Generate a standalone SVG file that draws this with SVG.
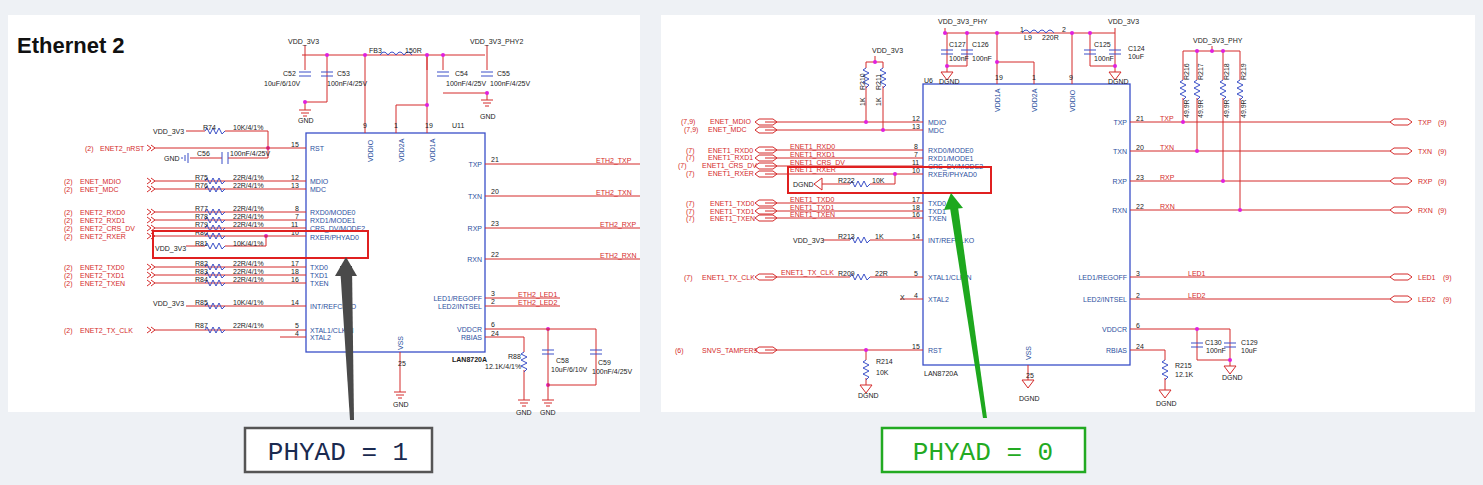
<svg xmlns="http://www.w3.org/2000/svg" width="1483" height="485" viewBox="0 0 1483 485">
<style>
.w{stroke:#d42a2a;stroke-width:1;fill:none}
.chip{stroke:#3a4fc8;stroke-width:1.3;fill:#fff}
.pn{font-family:'Liberation Sans',Arial,sans-serif;font-size:7px;fill:#2c4fa0}
.nt{font-family:'Liberation Sans',Arial,sans-serif;font-size:7px;fill:#d42a2a}
.tk{font-family:'Liberation Sans',Arial,sans-serif;font-size:7px;fill:#222}
.d{fill:#e020e0}
.big{font-family:'Liberation Mono','DejaVu Sans Mono',monospace;font-size:26px}
</style>
<defs>
<path id="rz" d="M0,0 l2,-3 l3,6 l3,-6 l3,6 l3,-6 l3,6 l3,-3" stroke="#3a4fc8" fill="none"/>
<path id="rv" d="M0,0 l-3,2 l6,3 l-6,3 l6,3 l-6,3 l6,3 l-3,3" stroke="#3a4fc8" fill="none"/>
<path id="gnd" d="M-6,0 h12 M-4,3 h8 M-2,6 h4" stroke="#d42a2a" fill="none"/>
<path id="dg" d="M-6,0 h12 l-6,8 z" stroke="#d42a2a" fill="none"/>
<path id="chev" d="M0,-3 l4,3 l-4,3 M4,-3 l4,3 l-4,3" stroke="#d42a2a" fill="none"/>
<path id="hx" d="M0,0 l4,-3 h14 l4,3 l-4,3 h-14 z" stroke="#d42a2a" fill="none"/>
</defs>
<rect width="1483" height="485" fill="#eef1f5"/>
<rect x="8" y="15" width="632" height="397" fill="#fff"/>
<rect x="661" y="15" width="814" height="397" fill="#fff"/>

<text x="17" y="53" font-family="'Liberation Sans',Arial,sans-serif" font-size="22" font-weight="bold" fill="#111">Ethernet 2</text>
<g id="u11">
<rect class="chip" x="306" y="133" width="179" height="219"/>
<text class="tk" x="452" y="128">U11</text>
<text class="tk" x="452" y="362" font-weight="bold">LAN8720A</text>
<g class="pn">
<text x="310" y="151">RST</text><text x="310" y="184">MDIO</text><text x="310" y="192">MDC</text>
<text x="310" y="215">RXD0/MODE0</text><text x="310" y="223">RXD1/MODE1</text><text x="310" y="231">CRS_DV/MODE2</text><text x="310" y="240">RXER/PHYAD0</text>
<text x="310" y="270">TXD0</text><text x="310" y="278">TXD1</text><text x="310" y="286">TXEN</text><text x="310" y="309">INT/REFCLKO</text>
<text x="310" y="333">XTAL1/CLKIN</text><text x="310" y="340">XTAL2</text>
<text x="482" y="167" text-anchor="end">TXP</text><text x="482" y="199" text-anchor="end">TXN</text><text x="482" y="231" text-anchor="end">RXP</text><text x="482" y="262" text-anchor="end">RXN</text>
<text x="482" y="301" text-anchor="end">LED1/REGOFF</text><text x="482" y="309" text-anchor="end">LED2/INTSEL</text><text x="482" y="332" text-anchor="end">VDDCR</text><text x="482" y="340" text-anchor="end">RBIAS</text>
<text transform="translate(373,162) rotate(-90)">VDDIO</text><text transform="translate(404,162) rotate(-90)">VDD2A</text><text transform="translate(435,162) rotate(-90)">VDD1A</text>
<text transform="translate(403,350) rotate(-90)">VSS</text>
</g>
</g>
<g id="left-conn">
<path class="w" d="M302,55 H485 M365,55 V133 M427,55 V133 M396,105 H427 M396,105 V133 M305,55 V70 M327,55 V70 M305,102 H327 M305,102 V110 M327,70 V102 M427,55 V70 M443,55 V70 M487,55 V70 M443,93 H487 M487,93 V100 M487,45 V55 M305,45 V55"/>
<path d="M380,55 q4,-6 8,0 q4,-6 8,0 q4,-6 8,0 q4,-6 8,0" stroke="#3a4fc8" fill="none"/>
<g class="d"><circle cx="327" cy="55" r="2"/><circle cx="365" cy="55" r="2"/><circle cx="427" cy="55" r="2"/><circle cx="443" cy="55" r="2"/><circle cx="427" cy="105" r="2"/><circle cx="305" cy="102" r="2"/><circle cx="487" cy="93" r="2"/><circle cx="268" cy="148" r="2"/><circle cx="266" cy="236" r="2"/><circle cx="548" cy="329" r="2"/><circle cx="548" cy="385" r="2"/></g>
<path d="M299,72 h12 M299,76 h12 M321,72 h12 M321,76 h12 M437,72 h12 M437,76 h12 M481,72 h12 M481,76 h12" stroke="#3a4fc8"/>
<use href="#gnd" x="305" y="110"/><use href="#gnd" x="487" y="100"/>
<path class="w" d="M186,131 H205 M225,131 H268 V148 M155,148 H306 M190,158 H222 M228,158 H268 V148 M155,181 H306 M155,189 H306 M155,212 H306 M155,220 H306 M155,228 H306 M155,236 H306 M186,246 H205 M225,246 H266 V236 M155,267 H306 M155,275 H306 M155,283 H306 M186,306 H306 M155,330 H306 M280,337 H306 M485,164 H640 M485,196 H640 M485,228 H640 M485,259 H640 M485,298 H560 M485,306 H560 M485,329 H596 V385 M485,337 H524 V352 M548,329 V385 M548,385 H596 M400,352 V392 M524,370 V400 M548,385 V400"/>
<path d="M222,152 v12 M228,152 v12 M188,153 v10 M185,155 v6 M182,157 v2" stroke="#3a4fc8"/>
<path d="M542,350 h12 M542,354 h12 M590,350 h12 M590,354 h12" stroke="#3a4fc8"/>
<use href="#rv" x="524" y="352"/>
<use href="#gnd" x="400" y="392"/><use href="#gnd" x="524" y="400"/><use href="#gnd" x="548" y="400"/>
<g><use href="#rz" x="205" y="131"/><use href="#rz" x="205" y="181"/><use href="#rz" x="205" y="189"/><use href="#rz" x="205" y="212"/><use href="#rz" x="205" y="220"/><use href="#rz" x="205" y="228"/><use href="#rz" x="205" y="236"/><use href="#rz" x="205" y="246"/><use href="#rz" x="205" y="267"/><use href="#rz" x="205" y="275"/><use href="#rz" x="205" y="283"/><use href="#rz" x="205" y="306"/><use href="#rz" x="205" y="330"/></g>
<g><use href="#chev" x="147" y="148"/><use href="#chev" x="147" y="181"/><use href="#chev" x="147" y="189"/><use href="#chev" x="147" y="212"/><use href="#chev" x="147" y="220"/><use href="#chev" x="147" y="228"/><use href="#chev" x="147" y="236"/><use href="#chev" x="147" y="267"/><use href="#chev" x="147" y="275"/><use href="#chev" x="147" y="283"/><use href="#chev" x="147" y="330"/></g>
<g class="tk">
<text x="288" y="44">VDD_3V3</text><text x="470" y="44">VDD_3V3_PHY2</text><text x="369" y="53">FB3</text><text x="405" y="53">150R</text>
<text x="283" y="76">C52</text><text x="264" y="86">10uF/6/10V</text><text x="337" y="76">C53</text><text x="327" y="86">100nF/4/25V</text>
<text x="455" y="76">C54</text><text x="446" y="86">100nF/4/25V</text><text x="497" y="76">C55</text><text x="490" y="86">100nF/4/25V</text>
<text x="298" y="123">GND</text><text x="480" y="119">GND</text>
<text x="363" y="128">9</text><text x="394" y="128">1</text><text x="425" y="128">19</text>
<text x="153" y="134">VDD_3V3</text><text x="203" y="130">R74</text><text x="233" y="130">10K/4/1%</text>
<text x="164" y="161">GND</text><text x="197" y="156">C56</text><text x="230" y="156">100nF/4/25V</text>
<text x="195" y="180">R75</text><text x="233" y="180">22R/4/1%</text><text x="195" y="188">R76</text><text x="233" y="188">22R/4/1%</text>
<text x="195" y="211">R77</text><text x="233" y="211">22R/4/1%</text><text x="195" y="219">R78</text><text x="233" y="219">22R/4/1%</text><text x="195" y="227">R79</text><text x="233" y="227">22R/4/1%</text><text x="195" y="235">R80</text>
<text x="155" y="251">VDD_3V3</text><text x="195" y="246">R81</text><text x="233" y="246">10K/4/1%</text>
<text x="195" y="266">R82</text><text x="233" y="266">22R/4/1%</text><text x="195" y="274">R83</text><text x="233" y="274">22R/4/1%</text><text x="195" y="282">R84</text><text x="233" y="282">22R/4/1%</text>
<text x="153" y="306">VDD_3V3</text><text x="195" y="305">R85</text><text x="233" y="305">10K/4/1%</text>
<text x="195" y="328">R87</text><text x="233" y="328">22R/4/1%</text>
<text x="291" y="147">15</text><text x="291" y="180">12</text><text x="291" y="188">13</text><text x="295" y="211">8</text><text x="295" y="219">7</text><text x="291" y="227">11</text><text x="291" y="235">10</text>
<text x="291" y="266">17</text><text x="291" y="274">18</text><text x="291" y="282">16</text><text x="291" y="305">14</text><text x="295" y="328">5</text><text x="295" y="336">4</text>
<text x="491" y="162">21</text><text x="491" y="194">20</text><text x="491" y="226">23</text><text x="491" y="257">22</text><text x="491" y="296">3</text><text x="491" y="304">2</text><text x="491" y="327">6</text><text x="491" y="336">24</text>
<text x="398" y="366">25</text><text x="393" y="407">GND</text>
<text x="508" y="359">R88</text><text x="485" y="369">12.1K/4/1%</text><text x="556" y="363">C58</text><text x="551" y="372">10uF/6/10V</text><text x="598" y="365">C59</text><text x="592" y="374">100nF/4/25V</text>
<text x="516" y="415">GND</text><text x="540" y="415">GND</text>
</g>
<g class="nt">
<text x="85" y="151">(2)</text><text x="100" y="151">ENET2_nRST</text>
<text x="64" y="184">(2)</text><text x="80" y="184">ENET_MDIO</text><text x="64" y="192">(2)</text><text x="80" y="192">ENET_MDC</text>
<text x="64" y="215">(2)</text><text x="80" y="215">ENET2_RXD0</text><text x="64" y="223">(2)</text><text x="80" y="223">ENET2_RXD1</text><text x="64" y="231">(2)</text><text x="80" y="231">ENET2_CRS_DV</text><text x="64" y="239">(2)</text><text x="80" y="239">ENET2_RXER</text>
<text x="64" y="270">(2)</text><text x="80" y="270">ENET2_TXD0</text><text x="64" y="278">(2)</text><text x="80" y="278">ENET2_TXD1</text><text x="64" y="286">(2)</text><text x="80" y="286">ENET2_TXEN</text>
<text x="64" y="333">(2)</text><text x="80" y="333">ENET2_TX_CLK</text>
<text x="596" y="163">ETH2_TXP</text><text x="596" y="195">ETH2_TXN</text><text x="600" y="227">ETH2_RXP</text><text x="600" y="258">ETH2_RXN</text>
<text x="518" y="297">ETH2_LED1</text><text x="518" y="305">ETH2_LED2</text>
</g>
</g>
<rect x="153" y="231" width="215" height="27" fill="none" stroke="#e02020" stroke-width="2"/>

<g id="u6">
<rect class="chip" x="923" y="84" width="207" height="281"/>
<text class="tk" x="924" y="83">U6</text>
<text class="tk" x="924" y="376">LAN8720A</text>
<g class="pn">
<text x="928" y="125">MDIO</text><text x="928" y="133">MDC</text><text x="928" y="153">RXD0/MODE0</text><text x="928" y="161">RXD1/MODE1</text><text x="928" y="169">CRS_DV/MODE2</text><text x="928" y="177">RXER/PHYAD0</text>
<text x="928" y="206">TXD0</text><text x="928" y="214">TXD1</text><text x="928" y="221">TXEN</text><text x="928" y="243">INT/REFCLKO</text><text x="928" y="280">XTAL1/CLKIN</text><text x="928" y="302">XTAL2</text><text x="928" y="353">RST</text>
<text x="1127" y="125" text-anchor="end">TXP</text><text x="1127" y="154" text-anchor="end">TXN</text><text x="1127" y="184" text-anchor="end">RXP</text><text x="1127" y="213" text-anchor="end">RXN</text>
<text x="1127" y="280" text-anchor="end">LED1/REGOFF</text><text x="1127" y="302" text-anchor="end">LED2/INTSEL</text><text x="1127" y="332" text-anchor="end">VDDCR</text><text x="1127" y="353" text-anchor="end">RBIAS</text>
<text transform="translate(1000,112) rotate(-90)">VDD1A</text><text transform="translate(1037,112) rotate(-90)">VDD2A</text><text transform="translate(1075,112) rotate(-90)">VDDIO</text>
<text transform="translate(1031,360) rotate(-90)">VSS</text>
</g>
</g>
<g id="right-conn">
<path class="w" d="M945,33 H1115 M997,33 V84 M997,62 H1034 V84 M1072,33 V84 M945,28 V33 M1115,28 V33 M947,33 V66 M967,33 V66 M947,66 H967 M947,66 V72 M1090,33 V66 M1115,33 V66 M1090,66 H1115 M1115,66 V72 M1028,365 V380"/>
<path d="M1022,33 q4,-6 8,0 q4,-6 8,0 q4,-6 8,0 q4,-6 8,0" stroke="#3a4fc8" fill="none"/>
<path d="M941,50 h12 M941,54 h12 M961,50 h12 M961,54 h12 M1084,50 h12 M1084,54 h12 M1109,50 h12 M1109,54 h12" stroke="#3a4fc8"/>
<use href="#dg" x="947" y="72"/><use href="#dg" x="1115" y="72"/>
<path class="w" d="M866,62 V68 M866,86 V122 M883,62 V68 M883,86 V130 M866,62 H883 M875,56 V62 M765,122 H923 M765,130 H923 M765,150 H923 M765,158 H923 M765,166 H923 M765,174 H923 M895,174 V184 H870 M850,184 H822 M765,203 H923 M765,211 H923 M765,218 H923 M823,240 H850 M870,240 H923 M765,277 H850 M870,277 H923 M900,299 H923 M765,350 H923 M866,350 V360 M866,378 V385 M1130,122 H1390 M1130,151 H1390 M1130,181 H1390 M1130,210 H1390 M1130,277 H1390 M1130,299 H1390 M1130,329 H1197 V360 H1230 V329 H1197 M1130,350 H1165 V360 M1165,378 V390 M1230,360 V366 M1183,51 V80 M1183,98 V122 M1197,51 V80 M1197,98 V151 M1223,51 V80 M1223,98 V181 M1240,51 V80 M1240,98 V210 M1183,51 H1240 M1212,46 V51"/>
<use href="#rv" x="866" y="68"/><use href="#rv" x="883" y="68"/><use href="#rv" x="866" y="360"/><use href="#rv" x="1165" y="360"/>
<use href="#rv" x="1183" y="80"/><use href="#rv" x="1197" y="80"/><use href="#rv" x="1223" y="80"/><use href="#rv" x="1240" y="80"/>
<use href="#rz" x="850" y="184"/><use href="#rz" x="850" y="240"/><use href="#rz" x="850" y="277"/>
<path d="M1191,343 h12 M1191,347 h12 M1224,343 h12 M1224,347 h12" stroke="#3a4fc8"/>
<path d="M814,184 l8,-6 v12 z" stroke="#d42a2a" fill="none"/>
<use href="#dg" x="866" y="385"/><use href="#dg" x="1028" y="380"/><use href="#dg" x="1165" y="390"/><use href="#dg" x="1230" y="366"/>
<g class="d"><circle cx="945" cy="33" r="2"/><circle cx="967" cy="33" r="2"/><circle cx="997" cy="33" r="2"/><circle cx="1072" cy="33" r="2"/><circle cx="1090" cy="33" r="2"/><circle cx="997" cy="62" r="2"/><circle cx="1115" cy="66" r="2"/><circle cx="947" cy="66" r="2"/><circle cx="875" cy="62" r="2"/><circle cx="866" cy="122" r="2"/><circle cx="883" cy="130" r="2"/><circle cx="895" cy="174" r="2"/><circle cx="866" cy="350" r="2"/><circle cx="1183" cy="122" r="2"/><circle cx="1197" cy="151" r="2"/><circle cx="1223" cy="181" r="2"/><circle cx="1240" cy="210" r="2"/><circle cx="1197" cy="51" r="2"/><circle cx="1212" cy="51" r="2"/><circle cx="1223" cy="51" r="2"/><circle cx="1197" cy="329" r="2"/><circle cx="1230" cy="360" r="2"/></g>
<g><use href="#hx" x="755" y="122"/><use href="#hx" x="755" y="130"/><use href="#hx" x="755" y="150"/><use href="#hx" x="755" y="158"/><use href="#hx" x="755" y="166"/><use href="#hx" x="755" y="174"/><use href="#hx" x="755" y="203"/><use href="#hx" x="755" y="211"/><use href="#hx" x="755" y="218"/><use href="#hx" x="755" y="277"/><use href="#hx" x="755" y="350"/>
<use href="#hx" x="1390" y="122"/><use href="#hx" x="1390" y="151"/><use href="#hx" x="1390" y="181"/><use href="#hx" x="1390" y="210"/><use href="#hx" x="1390" y="277"/><use href="#hx" x="1390" y="299"/></g>
<g class="tk">
<text x="938" y="24">VDD_3V3_PHY</text><text x="1108" y="24">VDD_3V3</text><text x="1020" y="32">1</text><text x="1062" y="32">2</text><text x="1024" y="40">L9</text><text x="1042" y="40">220R</text>
<text x="949" y="47">C127</text><text x="972" y="47">C126</text><text x="949" y="61">100nF</text><text x="972" y="61">100nF</text>
<text x="1094" y="47">C125</text><text x="1128" y="51">C124</text><text x="1094" y="61">100nF</text><text x="1128" y="59">10uF</text>
<text x="939" y="84">DGND</text><text x="1108" y="84">DGND</text><text x="995" y="80">19</text><text x="1032" y="80">1</text><text x="1069" y="80">9</text>
<text x="872" y="53">VDD_3V3</text><text x="1193" y="43">VDD_3V3_PHY</text>
<text transform="translate(865,90) rotate(-90)">R210</text><text transform="translate(881,90) rotate(-90)">R211</text>
<text transform="translate(865,106) rotate(-90)">1K</text><text transform="translate(881,106) rotate(-90)">1K</text>
<text transform="translate(1189,80) rotate(-90)">R216</text><text transform="translate(1203,80) rotate(-90)">R217</text><text transform="translate(1229,80) rotate(-90)">R218</text><text transform="translate(1246,80) rotate(-90)">R219</text>
<text transform="translate(1189,118) rotate(-90)">49.9R</text><text transform="translate(1203,118) rotate(-90)">49.9R</text><text transform="translate(1229,118) rotate(-90)">49.9R</text><text transform="translate(1246,118) rotate(-90)">49.9R</text>
<text x="912" y="121">12</text><text x="912" y="129">13</text><text x="914" y="149">8</text><text x="914" y="157">7</text><text x="912" y="165">11</text><text x="912" y="173">10</text>
<text x="912" y="202">17</text><text x="912" y="210">18</text><text x="912" y="217">16</text><text x="912" y="239">14</text><text x="914" y="276">5</text><text x="914" y="298">4</text><text x="912" y="349">15</text>
<text x="1136" y="121">21</text><text x="1136" y="150">20</text><text x="1136" y="180">23</text><text x="1136" y="209">22</text><text x="1136" y="276">3</text><text x="1136" y="298">2</text><text x="1136" y="328">6</text><text x="1136" y="349">24</text>
<text x="793" y="187">DGND</text><text x="838" y="183">R222</text><text x="872" y="183">10K</text>
<text x="793" y="243">VDD_3V3</text><text x="838" y="239">R213</text><text x="875" y="239">1K</text><text x="838" y="276">R209</text><text x="875" y="276">22R</text>
<text x="900" y="300">X</text>
<text x="876" y="364">R214</text><text x="876" y="375">10K</text><text x="858" y="398">DGND</text>
<text x="1026" y="378">25</text><text x="1019" y="401">DGND</text>
<text x="1175" y="368">R215</text><text x="1175" y="377">12.1K</text><text x="1156" y="406">DGND</text>
<text x="1205" y="345">C130</text><text x="1206" y="353">100nF</text><text x="1241" y="345">C129</text><text x="1241" y="353">10uF</text><text x="1222" y="380">DGND</text>
</g>
<g class="nt">
<text x="681" y="124">(7,9)</text><text x="710" y="124">ENET_MDIO</text><text x="684" y="132">(7,9)</text><text x="708" y="132">ENET_MDC</text>
<text x="686" y="153">(7)</text><text x="708" y="153">ENET1_RXD0</text><text x="686" y="160">(7)</text><text x="708" y="160">ENET1_RXD1</text><text x="678" y="168">(7)</text><text x="702" y="168">ENET1_CRS_DV</text><text x="686" y="176">(7)</text><text x="708" y="176">ENET1_RXER</text>
<text x="790" y="149">ENET1_RXD0</text><text x="790" y="157">ENET1_RXD1</text><text x="790" y="165">ENET1_CRS_DV</text><text x="790" y="172">ENET1_RXER</text>
<text x="686" y="206">(7)</text><text x="710" y="206">ENET1_TXD0</text><text x="686" y="214">(7)</text><text x="710" y="214">ENET1_TXD1</text><text x="686" y="221">(7)</text><text x="710" y="221">ENET1_TXEN</text>
<text x="790" y="202">ENET1_TXD0</text><text x="790" y="210">ENET1_TXD1</text><text x="790" y="217">ENET1_TXEN</text>
<text x="684" y="280">(7)</text><text x="702" y="280">ENET1_TX_CLK</text><text x="781" y="275">ENET1_TX_CLK</text>
<text x="675" y="353">(6)</text><text x="702" y="353">SNVS_TAMPER9</text>
<text x="1160" y="121">TXP</text><text x="1160" y="150">TXN</text><text x="1160" y="180">RXP</text><text x="1160" y="209">RXN</text><text x="1188" y="276">LED1</text><text x="1188" y="298">LED2</text>
<text x="1418" y="125">TXP</text><text x="1418" y="154">TXN</text><text x="1418" y="184">RXP</text><text x="1418" y="213">RXN</text><text x="1418" y="280">LED1</text><text x="1418" y="302">LED2</text>
<text x="1438" y="125">(9)</text><text x="1438" y="154">(9)</text><text x="1438" y="184">(9)</text><text x="1438" y="213">(9)</text><text x="1443" y="280">(9)</text><text x="1443" y="302">(9)</text>
</g>
</g>
<rect x="788" y="167" width="203" height="26" fill="none" stroke="#e02020" stroke-width="2"/>

<g id="arrows">
<path d="M340,266 L352,266 L354,420 L350,420 Z" fill="#4a4a4a"/>
<path d="M335,276 L346,257 L357,276 Z" fill="#4a4a4a"/>
<path d="M950,208 L958,207 L987,418 L983,418 Z" fill="#1ea81e"/>
<path d="M944,210 L951,193 L963,208 Z" fill="#1ea81e"/>
</g>
<g id="label1"><rect x="245" y="428" width="187" height="44" fill="#fff" stroke="#555" stroke-width="2.5"/><text class="big" x="338" y="460" text-anchor="middle" fill="#1a2a50">PHYAD = 1</text></g>
<g id="label0"><rect x="882" y="428" width="203" height="44" fill="#fff" stroke="#22aa22" stroke-width="2.5"/><text class="big" x="983" y="460" text-anchor="middle" fill="#22aa22">PHYAD = 0</text></g>
</svg>
